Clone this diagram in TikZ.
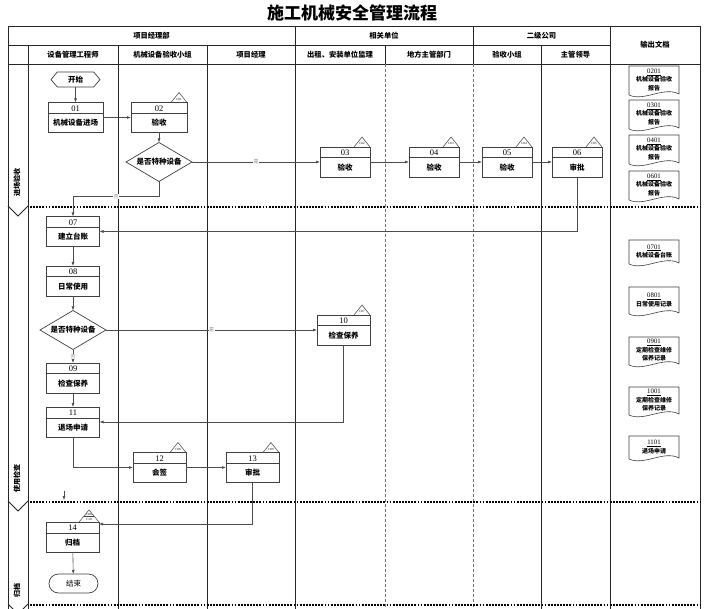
\documentclass[tikz,border=0pt]{standalone}
\usepackage{fontspec}
\setmainfont{Liberation Serif}
\newfontfamily\cjk{Noto Sans CJK SC}
\usetikzlibrary{shapes.geometric,shapes.symbols,arrows.meta,calc}
\tikzset{
  x=1pt, y=-1pt,
  every node/.style={inner sep=0pt, outer sep=0pt},
  tbl/.style={draw=black!85, line width=0.8pt},
  lanedash/.style={draw=black!55, line width=0.7pt, dash pattern=on 3pt off 2pt},
  phasedash/.style={draw=black, line width=1.3pt, dash pattern=on 1.8pt off 1.3pt},
  pbox/.style={draw=black!75, line width=0.7pt, minimum width=53pt, minimum height=30pt, fill=white},
  numt/.style={font=\fontsize{8.5}{9}\selectfont},
  btxt/.style={font=\cjk\bfseries\fontsize{7.5}{8}\selectfont},
  hdr/.style={font=\cjk\bfseries\fontsize{7.3}{8}\selectfont},
  lanet/.style={font=\cjk\bfseries\fontsize{7}{8}\selectfont, rotate=90},
  arr/.style={draw=black!70, line width=0.6pt, -{Latex[length=4pt,width=3pt]}},
  yn/.style={font=\cjk\fontsize{5}{5}\selectfont, text=black!45, fill=white, inner sep=0.5pt},
  decis/.style={diamond, draw=black!75, line width=0.7pt, minimum width=66pt, minimum height=39pt, fill=white},
  tagline/.style={draw=black!75, line width=0.5pt},
  tagt/.style={font=\fontsize{3.2}{3.5}\selectfont},
  docline/.style={draw=black!75, line width=0.6pt, fill=white},
  doct/.style={font=\cjk\bfseries\fontsize{6}{8.5}\selectfont, align=center},
  termend/.style={draw=black!75, line width=0.7pt, rounded corners=9.5pt, minimum width=49pt, minimum height=19pt},
  termstart/.style={signal, signal to=west and east, signal pointer angle=100, draw=black!75, line width=0.7pt, minimum width=49pt, minimum height=15pt}
}
\newcommand\procbox[6][53]{%
  \node[pbox, minimum width=#1pt] (#2) at (#3,#4) {};
  \draw[line width=1pt, black!75] ([yshift=-11pt]#2.north west) -- ([yshift=-11pt]#2.north east);
  \node[numt] (#2n) at ([yshift=-6pt]#2.north) {#5};
  \node[btxt] (#2t) at ([yshift=9.5pt]#2.south) {#6};
}
\newcommand\ptag[3]{%
  \draw[tagline] ([xshift=-16pt]#1.north east) -- ([xshift=-8pt,yshift=10pt]#1.north east) -- (#1.north east);
  \node[tagt] (#2) at ([xshift=-8pt,yshift=3.2pt]#1.north east) {#3};
}
\newcommand\docshape[5]{%
  \draw[docline] (629,#2) -- (679,#2) -- (679,#3-4) .. controls (664,#3-12) and (644,#3+4) .. (629,#3-3) -- cycle;
  \node[doct] (#1) at (654,{#2+(#3-#2)/2-2}) {\underline{\rmfamily\mdseries\fontsize{6.8}{8.5}\selectfont #4}\\ #5};
}
\begin{document}
\begin{tikzpicture}
\fill[white] (0,0) rectangle (704,609);
\useasboundingbox (0,0) rectangle (704,609);

% title
\node[font=\cjk\bfseries\fontsize{17}{20}\selectfont] (title) at (352,13) {施工机械安全管理流程};

% header
\draw[tbl] (8,26) rectangle (700,64);
\draw[tbl] (8,45) -- (610,45);
\foreach \x in {295,473,610} \draw[tbl] (\x,26) -- (\x,64);
\foreach \x in {28,118,207,385,541} \draw[tbl] (\x,45) -- (\x,64);
\node[hdr] (h1) at (151.5,35.5) {项目经理部};
\node[hdr] (h2) at (384,35.5) {相关单位};
\node[hdr] (h3) at (541.5,35.5) {二级公司};
\node[hdr] (h4) at (655,45) {输出文档};
\node[hdr] (c1) at (73,54.5) {设备管理工程师};
\node[hdr] (c2) at (162.5,54.5) {机械设备验收小组};
\node[hdr] (c3) at (251,54.5) {项目经理};
\node[hdr] (c4) at (340,54.5) {出租、安装单位监理};
\node[hdr] (c5) at (429,54.5) {地方主管部门};
\node[hdr] (c6) at (507,54.5) {验收小组};
\node[hdr] (c7) at (575.5,54.5) {主管领导};

% body lanes
\foreach \x in {8,28,118,207,295,541,610,700} \draw[tbl] (\x,64) -- (\x,609);
\foreach \x in {385,473} \draw[lanedash] (\x,64) -- (\x,609);

% phase separators
\foreach \y in {207,502,605} {
  \draw[phasedash] (30,\y) -- (700,\y);
  \fill[white] (9,\y-1) -- (18,\y+9) -- (27,\y-1) -- cycle;
  \draw[tbl, line width=1pt] (8,\y-1) -- (18,\y+9) -- (28,\y-1);
}
\node[lanet] (p1) at (17,183) {进场验收};
\node[lanet] (p2) at (17,478) {使用检查};
\node[lanet] (p3) at (17,590) {归档};

% nodes
\node[termstart, font=\cjk\bfseries\fontsize{7.5}{8}\selectfont] (start) at (75.5,79.5) {开始};
\procbox[55]{n01}{75.5}{117.5}{01}{机械设备进场}
\procbox[56]{n02}{159}{117.5}{02}{验收}
\node[decis] (d1) at (159,162) {};
\node[btxt] (d1t) at (159,162) {是否特种设备};
\procbox[50]{n03}{345}{162}{03}{验收}
\procbox[50]{n04}{434}{162}{04}{验收}
\procbox[50]{n05}{507}{162}{05}{验收}
\procbox[50]{n06}{577}{162}{06}{审批}
\procbox{n07}{73}{231.5}{07}{建立台账}
\procbox{n08}{73}{281}{08}{日常使用}
\node[decis] (d2) at (73,330) {};
\node[btxt] (d2t) at (73,330) {是否特种设备};
\procbox{n10}{343.5}{330}{10}{检查保养}
\procbox{n09}{73}{378}{09}{检查保养}
\procbox{n11}{73}{422}{11}{退场申请}
\procbox{n12}{159.5}{467.5}{12}{会签}
\procbox{n13}{252.5}{467.5}{13}{审批}
\procbox{n14}{72.5}{537}{14}{归档}
\node[termend, font=\cjk\fontsize{7.5}{8}\selectfont] (end) at (73.5,583.5) {结束};

% tags
\ptag{n02}{t02}{C01}
\ptag{n03}{t03}{C02}
\ptag{n04}{t04}{C03}
\ptag{n05}{t05}{C04}
\ptag{n06}{t06}{C05}
\ptag{n10}{t10}{C07}
\ptag{n12}{t12}{C08}
\ptag{n13}{t13}{C09}
\draw[tagline] ([xshift=-20pt]n14.north east) -- ([xshift=-10pt,yshift=12pt]n14.north east) -- (n14.north east);
\draw[tagline] ([xshift=-15pt,yshift=6pt]n14.north east) -- ([xshift=-5pt,yshift=6pt]n14.north east);
\node[tagt] (t14a) at ([xshift=-10pt,yshift=8pt]n14.north east) {C06};
\node[tagt] (t14b) at ([xshift=-10pt,yshift=3pt]n14.north east) {C10};

% connectors
\draw[arr] (start) -- (n01);
\draw[arr] (n01) -- (n02);
\draw[arr] (n02) -- (d1);
\draw[arr] (d1) -- node[yn] {是} (n03);
\draw[arr] (d1.south) -- ++(0,15) -| node[yn, pos=0.25] {否} (n07.north);
\draw[arr] (n03) -- (n04);
\draw[arr] (n04) -- (n05);
\draw[arr] (n05) -- (n06);
\draw[arr] (n06.south) |- (n07.east);
\draw[arr] (n07) -- (n08);
\draw[arr] (n08) -- (d2);
\draw[arr] (d2) -- node[yn] {是} (n10);
\draw[arr] (d2) -- node[yn] {否} (n09);
\draw[arr] (n09) -- (n11);
\draw[arr] (n10.south) |- (n11.east);
\draw[arr] (n11.south) |- (n12.west);
\draw[arr] (n12) -- (n13);
\draw[arr] (n13.south) |- ([yshift=-2pt]n14.north east);
\draw[arr] (n14) -- (end);
\coordinate (sa) at (64,491);
\draw[arr] (sa) -- ++(0,9);

% output documents
\docshape{o0201}{66}{98}{0201}{机械设备验收\\报告}
\docshape{o0301}{100}{132}{0301}{机械设备验收\\报告}
\docshape{o0401}{135}{167}{0401}{机械设备验收\\报告}
\docshape{o0601}{171}{203}{0601}{机械设备验收\\报告}
\docshape{o0701}{240}{267}{0701}{机械设备台账}
\docshape{o0801}{287}{317}{0801}{日常使用记录}
\docshape{o0901}{337}{368}{0901}{定期检查维修\\保养记录}
\docshape{o1001}{387}{418}{1001}{定期检查维修\\保养记录}
\docshape{o1101}{436}{462}{1101}{退场申请}
\end{tikzpicture}
\end{document}
